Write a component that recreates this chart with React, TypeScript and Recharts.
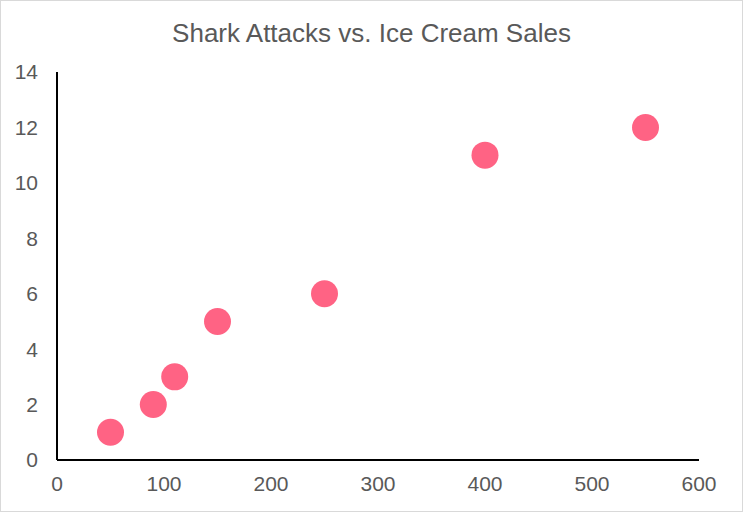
import React from 'react';
import { ScatterChart, Scatter, XAxis, YAxis, ZAxis } from 'recharts';

const iceCreamSales = [50, 90, 110, 150, 250, 400, 550];
const sharkAttacks = [1, 2, 3, 5, 6, 11, 12];
const xTicks = [0, 100, 200, 300, 400, 500, 600];
const yTicks = [0, 2, 4, 6, 8, 10, 12, 14];

const data = iceCreamSales.map((x, i) => ({ x, y: sharkAttacks[i] }));

const FONT = '"Liberation Sans", Arial, sans-serif';
const GRAY = '#595959';

export default function App() {
  return (
    <div style={{ position: 'absolute', left: 0, top: 0, width: 743, height: 512, background: '#fff' }}>
      <div
        style={{
          position: 'absolute', left: 0, top: 0, width: 741, height: 510,
          border: '1px solid #d9d9d9', boxSizing: 'content-box',
        }}
      />
      <div
        style={{
          position: 'absolute', left: 0, top: 15, width: 743, textAlign: 'center',
          fontFamily: FONT, fontSize: 26, color: GRAY, lineHeight: '36px',
        }}
      >
        Shark Attacks vs. Ice Cream Sales
      </div>
      <div style={{ position: 'absolute', left: 0, top: 0 }}>
        <ScatterChart width={743} height={512} margin={{ top: 72, right: 44, bottom: 0, left: 0 }}>
          <XAxis
            type="number"
            dataKey="x"
            domain={[0, 600]}
            ticks={xTicks}
            height={52}
            axisLine={{ stroke: '#000', strokeWidth: 2 }}
            tickLine={false}
            tickSize={6}
            tickMargin={10}
            tick={{ fill: GRAY, fontSize: 21, fontFamily: FONT }}
            interval={0}
          />
          <YAxis
            type="number"
            dataKey="y"
            domain={[0, 14]}
            ticks={yTicks}
            width={57}
            axisLine={{ stroke: '#000', strokeWidth: 2 }}
            tickLine={false}
            tickSize={6}
            tickMargin={13}
            tick={{ fill: GRAY, fontSize: 21, fontFamily: FONT }}
            interval={0}
          />
          <ZAxis range={[572, 572]} />
          <Scatter
            data={data}
            fill="#FF6384"
            isAnimationActive={false}
            shape={(props: any) => <circle cx={props.cx} cy={props.cy} r={13.5} fill="#FF6384" />}
          />
        </ScatterChart>
      </div>
    </div>
  );
}
